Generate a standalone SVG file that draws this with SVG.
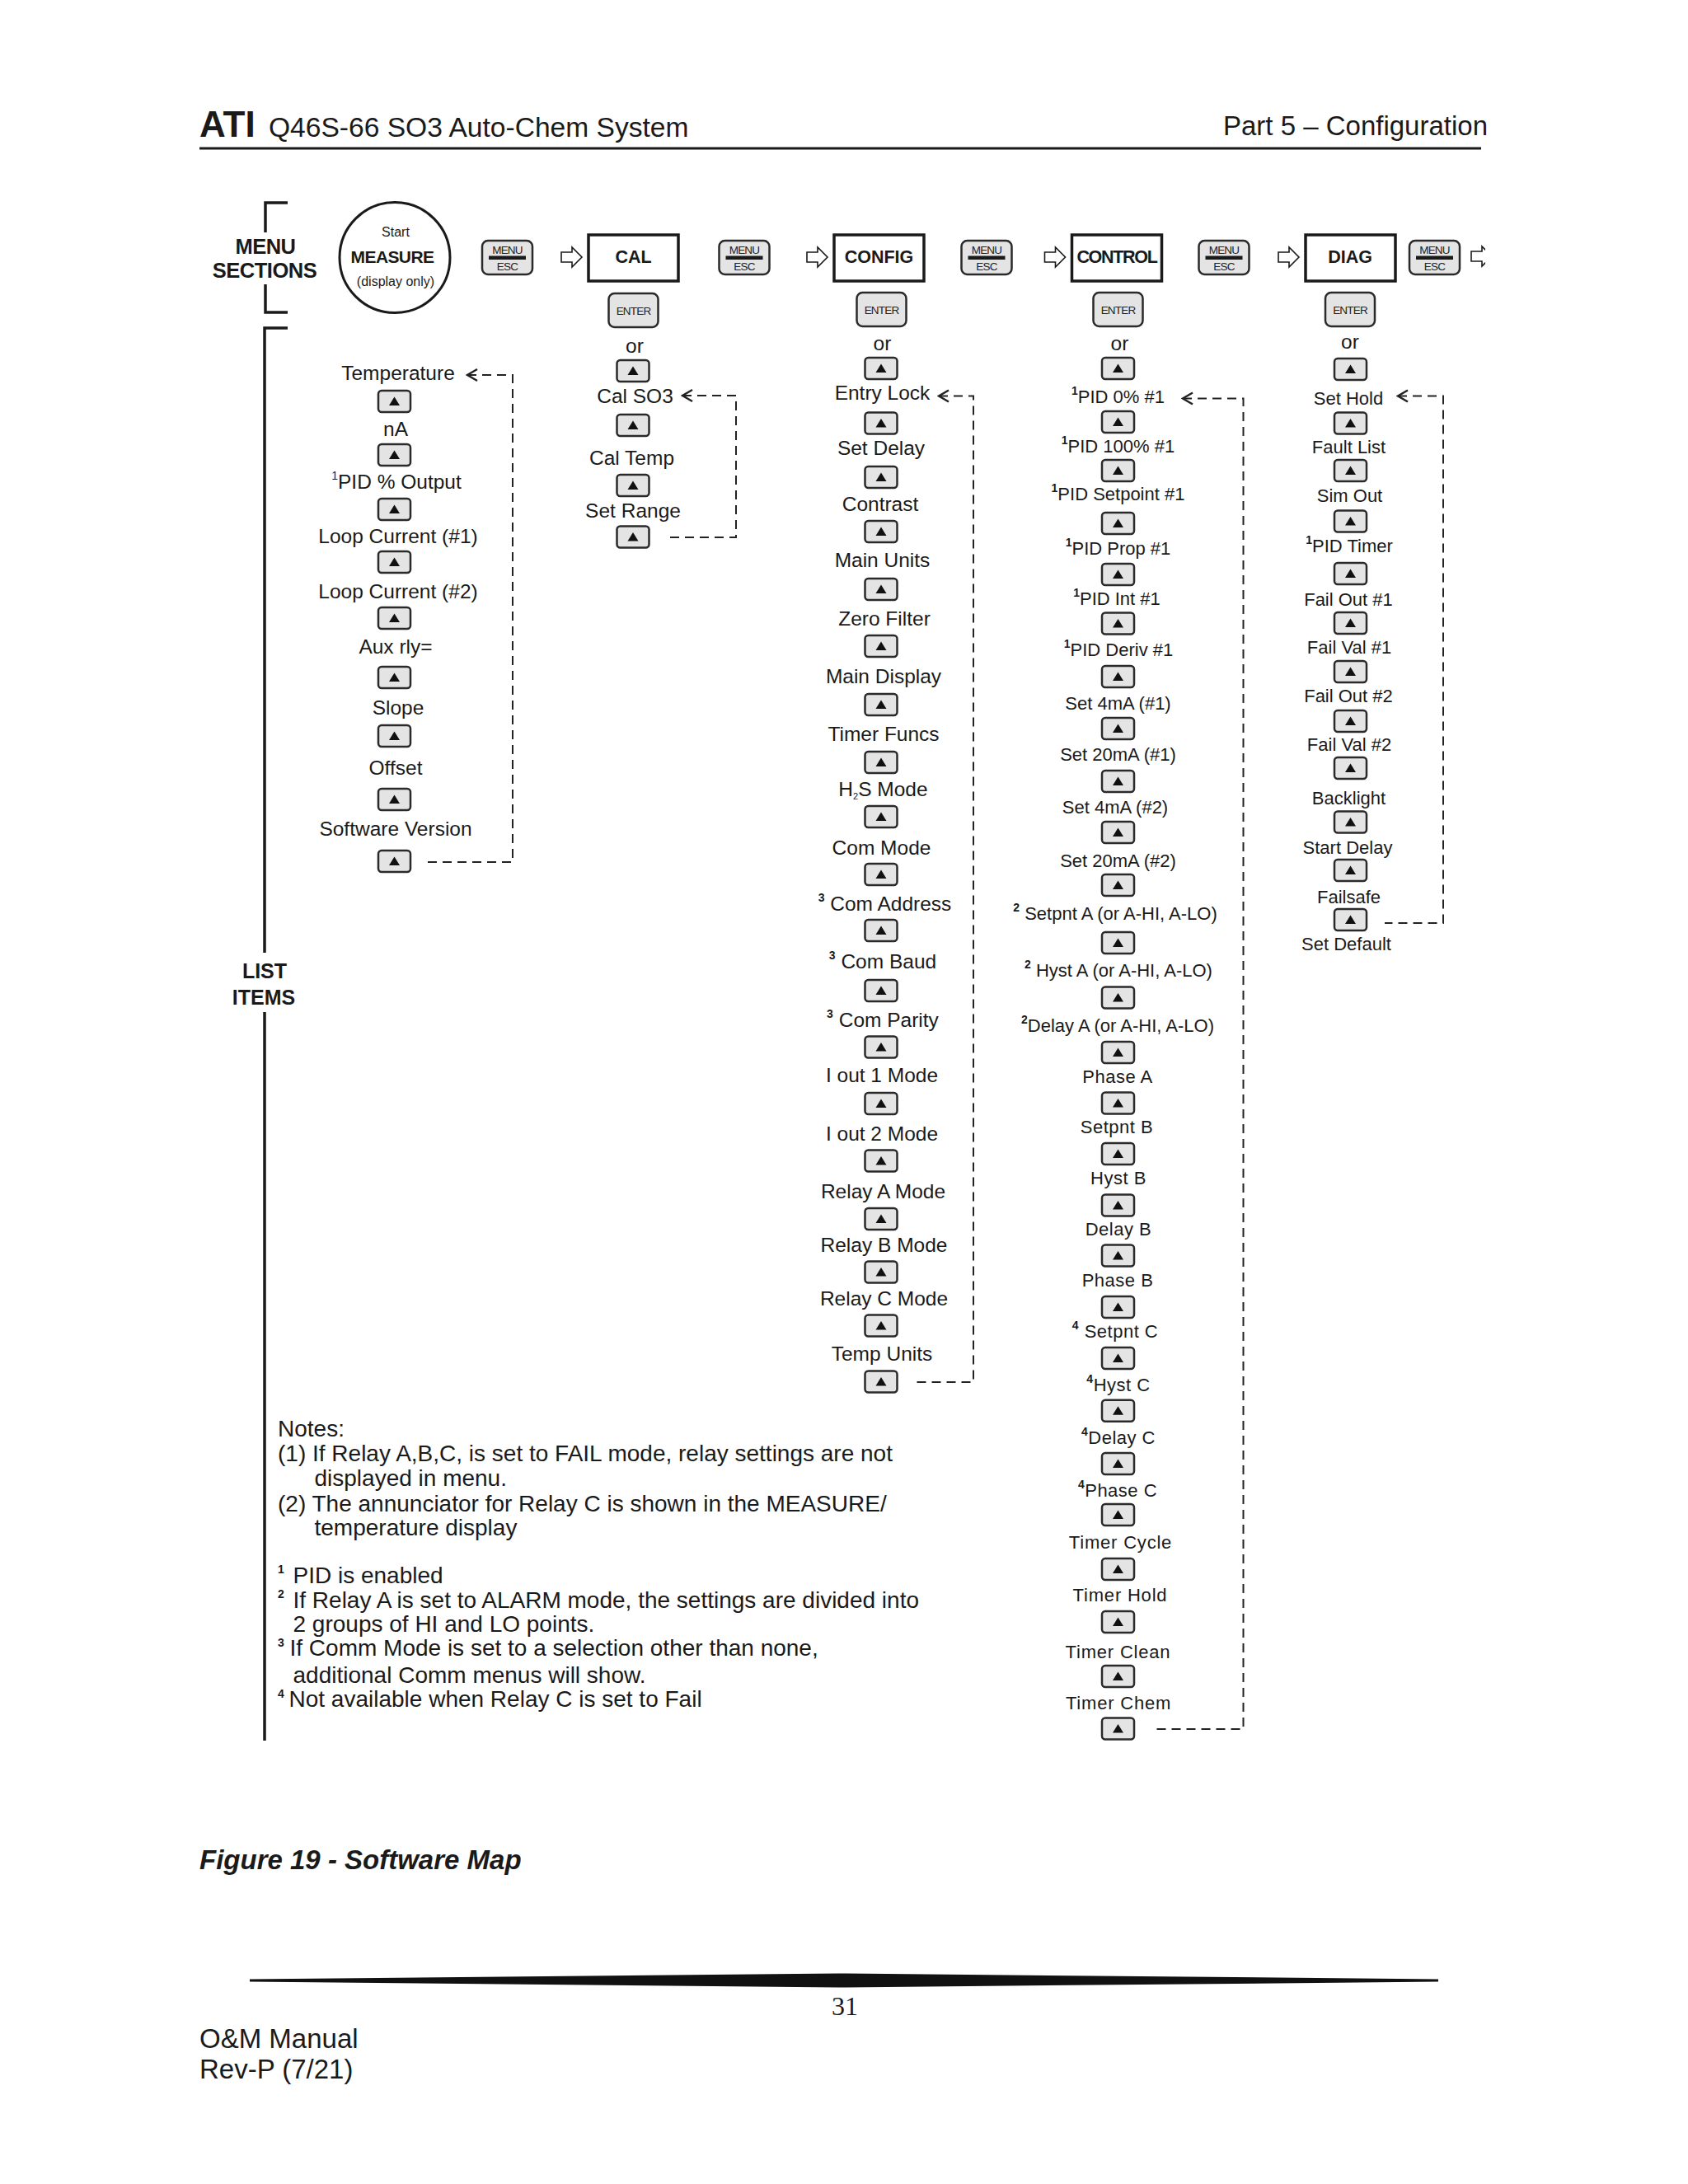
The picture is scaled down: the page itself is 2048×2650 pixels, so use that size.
<svg xmlns="http://www.w3.org/2000/svg" xmlns:xlink="http://www.w3.org/1999/xlink" width="2048" height="2650" viewBox="0 0 2048 2650">
<style>
.t{font-family:"Liberation Sans",Arial,sans-serif;fill:#1a1a1a}
.b{font-weight:bold}
.lm{font-size:24.5px;text-anchor:middle}
.lc{font-size:22px;text-anchor:middle}
.nt{font-size:28px}
.sup{font-size:14px}
.dash{fill:none;stroke:#222;stroke-width:2;stroke-dasharray:11 7;marker-start:url(#ah)}
.sec{fill:#fff;stroke:#1a1a1a;stroke-width:3.5}
.key{fill:#e4e4e4;stroke:#2a2a2a;stroke-width:2.5}
.harrow{fill:#fff;stroke:#1a1a1a;stroke-width:1.6}
.brk{fill:none;stroke:#1a1a1a;stroke-width:3.5}
.ktxt{font-family:"Liberation Sans",Arial,sans-serif;fill:#222;font-size:13.5px;text-anchor:middle;letter-spacing:-0.8px}
</style>
<defs>
<g id="up"><rect x="-19.5" y="-13" width="39" height="26" rx="4" class="key"/><path d="M-6.5,5 L6.5,5 L0,-5.5 Z" fill="#111"/></g>
<g id="menuesc"><rect x="-30.5" y="0" width="61" height="41" rx="7" class="key"/><text class="ktxt" x="0" y="16">MENU</text><rect x="-22.5" y="18.5" width="45" height="4.5" fill="#1a1a1a"/><text class="ktxt" x="0" y="36">ESC</text></g>
<g id="enter"><rect x="-30" y="0" width="60" height="41" rx="7" class="key"/><text class="ktxt" x="0" y="26">ENTER</text></g>
<path id="hollow" d="M0,6 L13,6 L13,0 L25,12 L13,24 L13,18 L0,18 Z" class="harrow"/>
<marker id="ah" markerUnits="userSpaceOnUse" viewBox="-14 -10 16 20" markerWidth="16" markerHeight="20" refX="0" refY="0" orient="auto-start-reverse"><path d="M-12,-7 L0,0 L-12,7" fill="none" stroke="#222" stroke-width="2.5" stroke-dasharray="none"/></marker>
<clipPath id="clipr"><rect x="0" y="0" width="1802" height="2650"/></clipPath>
</defs>
<rect width="2048" height="2650" fill="#fff"/>

<g id="header">
<text class="t b" x="242" y="166" font-size="44">ATI</text>
<text class="t" x="326" y="166" font-size="33.6">Q46S-66 SO3 Auto-Chem System</text>
<text class="t" x="1805" y="164" font-size="33" text-anchor="end">Part 5 – Configuration</text>
<line x1="242" y1="180" x2="1797" y2="180" stroke="#1a1a1a" stroke-width="3"/>
</g>

<g id="menu-sections-label">
<path class="brk" d="M349,246 H322 V282 M322,345 V379 H349"/>
<text class="t b" x="322" y="308" font-size="25.5" text-anchor="middle" letter-spacing="-0.5">MENU</text>
<text class="t b" x="321" y="337" font-size="25.5" text-anchor="middle" letter-spacing="-0.5">SECTIONS</text>
</g>

<g id="list-items-label">
<path class="brk" d="M349,398 H321 V1156 M321,1228 V2112"/>
<text class="t b" x="321" y="1187" font-size="25" text-anchor="middle">LIST</text>
<text class="t b" x="320" y="1219" font-size="25" text-anchor="middle">ITEMS</text>
</g>

<g id="measure">
<circle cx="479" cy="312.5" r="67" fill="#fff" stroke="#1a1a1a" stroke-width="3"/>
<text class="t" x="480" y="287" font-size="16" text-anchor="middle">Start</text>
<text class="t b" x="476" y="319" font-size="21" text-anchor="middle" letter-spacing="-0.6">MEASURE</text>
<text class="t" x="480" y="347" font-size="16" text-anchor="middle">(display only)</text>
</g>

<g id="key-menu-1"><use href="#menuesc" x="615.5" y="292"/><use href="#hollow" x="681" y="300"/></g>
<g id="cal"><rect class="sec" x="714" y="285" width="109" height="56"/><text class="t b" x="768.5" y="319" font-size="21.5" text-anchor="middle">CAL</text><use href="#enter" x="768.5" y="356"/></g>
<g id="key-menu-2"><use href="#menuesc" x="903" y="292"/><use href="#hollow" x="979" y="300"/></g>
<g id="config"><rect class="sec" x="1012" y="285" width="109" height="56"/><text class="t b" x="1066.5" y="319" font-size="21.5" text-anchor="middle">CONFIG</text><use href="#enter" x="1069.5" y="355"/></g>
<g id="key-menu-3"><use href="#menuesc" x="1197" y="292"/><use href="#hollow" x="1267.5" y="300"/></g>
<g id="control"><rect class="sec" x="1300.5" y="285" width="109" height="56"/><text class="t b" x="1355" y="319" font-size="21.5" text-anchor="middle" letter-spacing="-1.3">CONTROL</text><use href="#enter" x="1356.5" y="355"/></g>
<g id="key-menu-4"><use href="#menuesc" x="1485" y="292"/><use href="#hollow" x="1551" y="300"/></g>
<g id="diag"><rect class="sec" x="1584" y="285" width="109" height="56"/><text class="t b" x="1638" y="319" font-size="21.5" text-anchor="middle">DIAG</text><use href="#enter" x="1638" y="355"/></g>
<g id="key-menu-5"><use href="#menuesc" x="1740.5" y="292"/><g clip-path="url(#clipr)"><use href="#hollow" x="1785" y="299"/></g></g>

<g id="measure-list">
<g id="m1"><text class="t lm" x="483" y="461">Temperature</text><use href="#up" x="478.5" y="487"/></g>
<g id="m2"><text class="t lm" x="480" y="529">nA</text><use href="#up" x="478.5" y="552"/></g>
<g id="m3"><text class="t lm" x="481" y="593"><tspan class="sup" dy="-11">1</tspan><tspan dy="11">PID % Output</tspan></text><use href="#up" x="478.5" y="618"/></g>
<g id="m4"><text class="t lm" x="483" y="659">Loop Current (#1)</text><use href="#up" x="478.5" y="682"/></g>
<g id="m5"><text class="t lm" x="483" y="726">Loop Current (#2)</text><use href="#up" x="478.5" y="750"/></g>
<g id="m6"><text class="t lm" x="480" y="793">Aux rly=</text><use href="#up" x="478.5" y="822"/></g>
<g id="m7"><text class="t lm" x="483" y="867">Slope</text><use href="#up" x="478.5" y="893"/></g>
<g id="m8"><text class="t lm" x="480" y="940">Offset</text><use href="#up" x="478.5" y="970"/></g>
<g id="m9"><text class="t lm" x="480" y="1014">Software Version</text><use href="#up" x="478.5" y="1045"/></g>
</g>

<g id="cal-list">
<g id="c0"><text class="t lm" x="770" y="428">or</text><use href="#up" x="768" y="450"/></g>
<g id="c1"><text class="t lm" x="770.5" y="489">Cal SO3</text><use href="#up" x="768" y="516"/></g>
<g id="c2"><text class="t lm" x="766.5" y="564">Cal Temp</text><use href="#up" x="768" y="589"/></g>
<g id="c3"><text class="t lm" x="768" y="628">Set Range</text><use href="#up" x="768" y="651.5"/></g>
</g>

<g id="config-list">
<g id="f0"><text class="t lm" x="1070.5" y="425">or</text><use href="#up" x="1069" y="447"/></g>
<g id="f1"><text class="t lm" x="1070.5" y="485">Entry Lock</text><use href="#up" x="1069" y="513.5"/></g>
<g id="f2"><text class="t lm" x="1069" y="552">Set Delay</text><use href="#up" x="1069" y="579"/></g>
<g id="f3"><text class="t lm" x="1068" y="620">Contrast</text><use href="#up" x="1069" y="645"/></g>
<g id="f4"><text class="t lm" x="1070.5" y="688">Main Units</text><use href="#up" x="1069" y="715"/></g>
<g id="f5"><text class="t lm" x="1073" y="759">Zero Filter</text><use href="#up" x="1069" y="784"/></g>
<g id="f6"><text class="t lm" x="1072" y="829">Main Display</text><use href="#up" x="1069" y="855"/></g>
<g id="f7"><text class="t lm" x="1072" y="899">Timer Funcs</text><use href="#up" x="1069" y="925"/></g>
<g id="f8"><text class="t lm" x="1071.5" y="966">H<tspan font-size="11" dy="4">2</tspan><tspan dy="-4">S Mode</tspan></text><use href="#up" x="1069" y="991"/></g>
<g id="f9"><text class="t lm" x="1069.5" y="1037">Com Mode</text><use href="#up" x="1069" y="1061"/></g>
<g id="f10"><text class="t lm" x="1073.5" y="1105"><tspan class="sup" font-weight="bold" dy="-11">3</tspan><tspan dy="11"> Com Address</tspan></text><use href="#up" x="1069" y="1129"/></g>
<g id="f11"><text class="t lm" x="1071" y="1175"><tspan class="sup" font-weight="bold" dy="-11">3</tspan><tspan dy="11"> Com Baud</tspan></text><use href="#up" x="1069" y="1202"/></g>
<g id="f12"><text class="t lm" x="1071" y="1246"><tspan class="sup" font-weight="bold" dy="-11">3</tspan><tspan dy="11"> Com Parity</tspan></text><use href="#up" x="1069" y="1270.5"/></g>
<g id="f13"><text class="t lm" x="1070" y="1313">I out 1 Mode</text><use href="#up" x="1069" y="1339"/></g>
<g id="f14"><text class="t lm" x="1070" y="1384">I out 2 Mode</text><use href="#up" x="1069" y="1408.5"/></g>
<g id="f15"><text class="t lm" x="1071.5" y="1454">Relay A Mode</text><use href="#up" x="1069" y="1479"/></g>
<g id="f16"><text class="t lm" x="1072.5" y="1518.5">Relay B Mode</text><use href="#up" x="1069" y="1543.5"/></g>
<g id="f17"><text class="t lm" x="1072.5" y="1583.5">Relay C Mode</text><use href="#up" x="1069" y="1608.5"/></g>
<g id="f18"><text class="t lm" x="1070" y="1651">Temp Units</text><use href="#up" x="1069" y="1676.5"/></g>
</g>

<g id="control-list">
<g id="k0"><text class="t lm" x="1358.5" y="425">or</text><use href="#up" x="1356.5" y="447"/></g>
<g id="k1"><text class="t lc" x="1356.5" y="489"><tspan class="sup" font-weight="bold" dy="-10">1</tspan><tspan dy="10">PID 0% #1</tspan></text><use href="#up" x="1356.5" y="512"/></g>
<g id="k2"><text class="t lc" x="1356.5" y="549"><tspan class="sup" font-weight="bold" dy="-10">1</tspan><tspan dy="10">PID 100% #1</tspan></text><use href="#up" x="1356.5" y="571"/></g>
<g id="k3"><text class="t lc" x="1356.5" y="607"><tspan class="sup" font-weight="bold" dy="-10">1</tspan><tspan dy="10">PID Setpoint #1</tspan></text><use href="#up" x="1356.5" y="635"/></g>
<g id="k4"><text class="t lc" x="1356.5" y="672.5"><tspan class="sup" font-weight="bold" dy="-10">1</tspan><tspan dy="10">PID Prop #1</tspan></text><use href="#up" x="1356.5" y="697"/></g>
<g id="k5"><text class="t lc" x="1355" y="733.5"><tspan class="sup" font-weight="bold" dy="-10">1</tspan><tspan dy="10">PID Int #1</tspan></text><use href="#up" x="1356.5" y="756.5"/></g>
<g id="k6"><text class="t lc" x="1357" y="796"><tspan class="sup" font-weight="bold" dy="-10">1</tspan><tspan dy="10">PID Deriv #1</tspan></text><use href="#up" x="1356.5" y="821"/></g>
<g id="k7"><text class="t lc" x="1356.5" y="861">Set 4mA (#1)</text><use href="#up" x="1356.5" y="884"/></g>
<g id="k8"><text class="t lc" x="1356.5" y="922.5">Set 20mA (#1)</text><use href="#up" x="1356.5" y="948"/></g>
<g id="k9"><text class="t lc" x="1353" y="987">Set 4mA (#2)</text><use href="#up" x="1356.5" y="1010"/></g>
<g id="k10"><text class="t lc" x="1356.5" y="1052">Set 20mA (#2)</text><use href="#up" x="1356.5" y="1074"/></g>
<g id="k11"><text class="t lc" x="1353" y="1116"><tspan class="sup" font-weight="bold" dy="-10">2</tspan><tspan dy="10"> Setpnt A (or A-HI, A-LO)</tspan></text><use href="#up" x="1356.5" y="1144"/></g>
<g id="k12"><text class="t lc" x="1357" y="1184.5"><tspan class="sup" font-weight="bold" dy="-10">2</tspan><tspan dy="10"> Hyst A (or A-HI, A-LO)</tspan></text><use href="#up" x="1356.5" y="1210.5"/></g>
<g id="k13"><text class="t lc" x="1356" y="1251.5"><tspan class="sup" font-weight="bold" dy="-10">2</tspan><tspan dy="10">Delay A (or A-HI, A-LO)</tspan></text><use href="#up" x="1356.5" y="1277"/></g>
<g id="k14"><text class="t lc" x="1356" y="1313.5" letter-spacing="0.5">Phase A</text><use href="#up" x="1356.5" y="1338.5"/></g>
<g id="k15"><text class="t lc" x="1355" y="1375" letter-spacing="0.5">Setpnt B</text><use href="#up" x="1356.5" y="1400"/></g>
<g id="k16"><text class="t lc" x="1357" y="1437" letter-spacing="0.5">Hyst B</text><use href="#up" x="1356.5" y="1462.5"/></g>
<g id="k17"><text class="t lc" x="1357" y="1499" letter-spacing="0.5">Delay B</text><use href="#up" x="1356.5" y="1523.5"/></g>
<g id="k18"><text class="t lc" x="1356" y="1560.5" letter-spacing="0.5">Phase B</text><use href="#up" x="1356.5" y="1586"/></g>
<g id="k19"><text class="t lc" x="1353" y="1622.5" letter-spacing="0.5"><tspan class="sup" font-weight="bold" dy="-10">4</tspan><tspan dy="10"> Setpnt C</tspan></text><use href="#up" x="1356.5" y="1648"/></g>
<g id="k20"><text class="t lc" x="1357" y="1687.5" letter-spacing="0.5"><tspan class="sup" font-weight="bold" dy="-10">4</tspan><tspan dy="10">Hyst C</tspan></text><use href="#up" x="1356.5" y="1711.7"/></g>
<g id="k21"><text class="t lc" x="1357" y="1752" letter-spacing="0.5"><tspan class="sup" font-weight="bold" dy="-10">4</tspan><tspan dy="10">Delay C</tspan></text><use href="#up" x="1356.5" y="1776"/></g>
<g id="k22"><text class="t lc" x="1356" y="1816" letter-spacing="0.5"><tspan class="sup" font-weight="bold" dy="-10">4</tspan><tspan dy="10">Phase C</tspan></text><use href="#up" x="1356.5" y="1838"/></g>
<g id="k23"><text class="t lc" x="1359.5" y="1879" letter-spacing="0.8">Timer Cycle</text><use href="#up" x="1356.5" y="1904"/></g>
<g id="k24"><text class="t lc" x="1359" y="1943" letter-spacing="0.8">Timer Hold</text><use href="#up" x="1356.5" y="1968"/></g>
<g id="k25"><text class="t lc" x="1356.5" y="2011.5" letter-spacing="0.8">Timer Clean</text><use href="#up" x="1356.5" y="2034"/></g>
<g id="k26"><text class="t lc" x="1357" y="2073.5" letter-spacing="0.8">Timer Chem</text><use href="#up" x="1356.5" y="2097.5"/></g>
</g>

<g id="diag-list">
<g id="d0"><text class="t lm" x="1638" y="423">or</text><use href="#up" x="1638.5" y="448"/></g>
<g id="d1"><text class="t lc" x="1636" y="491">Set Hold</text><use href="#up" x="1638.5" y="513.5"/></g>
<g id="d2"><text class="t lc" x="1636.5" y="550">Fault List</text><use href="#up" x="1638.5" y="571"/></g>
<g id="d3"><text class="t lc" x="1637.5" y="608.5">Sim Out</text><use href="#up" x="1638.5" y="632.5"/></g>
<g id="d4"><text class="t lc" x="1637" y="670"><tspan class="sup" font-weight="bold" dy="-10">1</tspan><tspan dy="10">PID Timer</tspan></text><use href="#up" x="1638.5" y="696"/></g>
<g id="d5"><text class="t lc" x="1636" y="734.5">Fail Out #1</text><use href="#up" x="1638.5" y="756"/></g>
<g id="d6"><text class="t lc" x="1637" y="793">Fail Val #1</text><use href="#up" x="1638.5" y="815"/></g>
<g id="d7"><text class="t lc" x="1636" y="852">Fail Out #2</text><use href="#up" x="1638.5" y="875"/></g>
<g id="d8"><text class="t lc" x="1637" y="910.5">Fail Val #2</text><use href="#up" x="1638.5" y="932"/></g>
<g id="d9"><text class="t lc" x="1636.5" y="976">Backlight</text><use href="#up" x="1638.5" y="997.5"/></g>
<g id="d10"><text class="t lc" x="1635" y="1035.5">Start Delay</text><use href="#up" x="1638.5" y="1056"/></g>
<g id="d11"><text class="t lc" x="1636.5" y="1096">Failsafe</text><use href="#up" x="1638.5" y="1116"/></g>
<g id="d12"><text class="t lc" x="1633.5" y="1153">Set Default</text></g>
</g>

<g id="connectors">
<path class="dash" d="M567,455 H622 V1046 H516"/>
<path class="dash" d="M828,480 H893 V652 H807"/>
<path class="dash" d="M1139,480.5 H1181 V1677 H1108"/>
<path class="dash" d="M1435,483.5 H1508.5 V2098 H1397"/>
<path class="dash" d="M1696,480.5 H1751 V1120 H1680"/>
</g>

<g id="notes">
<text class="t nt" x="337" y="1743">Notes:</text>
<text class="t nt" x="337" y="1773">(1) If Relay A,B,C, is set to FAIL mode, relay settings are not</text>
<text class="t nt" x="381.5" y="1803">displayed in menu.</text>
<text class="t nt" x="337" y="1834">(2) The annunciator for Relay C is shown in the MEASURE/</text>
<text class="t nt" x="381.5" y="1863">temperature display</text>
<text class="t" x="337" y="1909" font-size="14" font-weight="bold">1</text>
<text class="t nt" x="355.5" y="1921">PID is enabled</text>
<text class="t" x="337" y="1939" font-size="14" font-weight="bold">2</text>
<text class="t nt" x="355.5" y="1951">If Relay A is set to ALARM mode, the settings are divided into</text>
<text class="t nt" x="355.5" y="1980">2 groups of HI and LO points.</text>
<text class="t" x="337" y="1998" font-size="14" font-weight="bold">3</text>
<text class="t nt" x="351.5" y="2009">If Comm Mode is set to a selection other than none,</text>
<text class="t nt" x="355.5" y="2042">additional Comm menus will show.</text>
<text class="t" x="337" y="2060" font-size="14" font-weight="bold">4</text>
<text class="t nt" x="350.5" y="2071">Not available when Relay C is set to Fail</text>
</g>

<g id="footer">
<text class="t b" x="242" y="2268" font-size="33" font-style="italic">Figure 19 - Software Map</text>
<path d="M303,2401.5 L1026,2394.5 L1745,2401.5 L1745,2404.5 L1026,2411.5 L303,2404.5 Z" fill="#111"/>
<text x="1025" y="2445" font-family="'Liberation Serif','Times New Roman',serif" font-size="32" text-anchor="middle" fill="#1a1a1a">31</text>
<text class="t" x="242" y="2485" font-size="33">O&amp;M Manual</text>
<text class="t" x="242" y="2522" font-size="33">Rev-P (7/21)</text>
</g>
</svg>
